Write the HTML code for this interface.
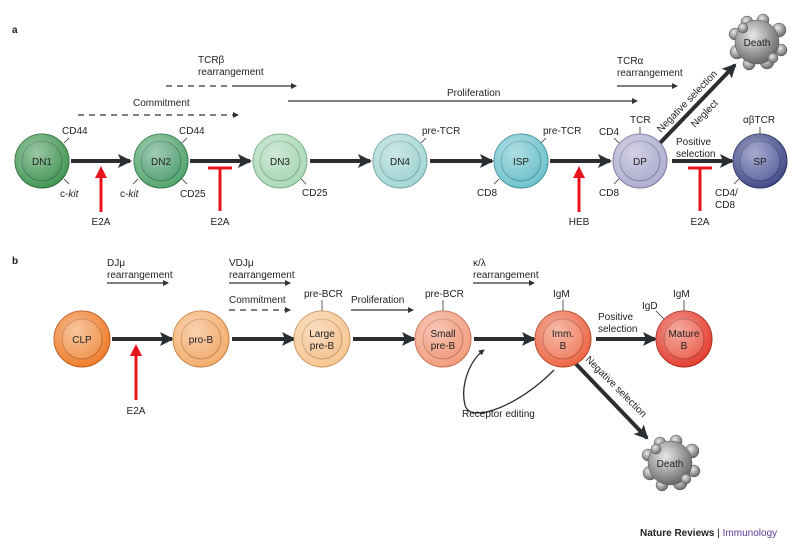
<!DOCTYPE html>
<html><head><meta charset="utf-8"><style>
html,body{margin:0;padding:0;background:#fff}
svg{display:block}
text{font-family:"Liberation Sans",sans-serif;font-size:10px;fill:#222}
</style></head><body>
<svg width="800" height="549" viewBox="0 0 800 549" xmlns="http://www.w3.org/2000/svg">
<defs>
<marker id="ah" markerWidth="8" markerHeight="8" refX="5" refY="4" orient="auto" markerUnits="userSpaceOnUse"><path d="M0,1 L6,4 L0,7 Z" fill="#333"/></marker>
<marker id="ahb" markerWidth="16" markerHeight="16" refX="12" refY="7" orient="auto" markerUnits="userSpaceOnUse"><path d="M0,0 L14,7 L0,14 L3,7 Z" fill="#2a2e31"/></marker>
<marker id="ahr" markerWidth="14" markerHeight="14" refX="6" refY="6" orient="auto" markerUnits="userSpaceOnUse"><path d="M0,0 L12,6 L0,12 Z" fill="#e8141c"/></marker>
<radialGradient id="gr" cx="40%" cy="35%" r="70%"><stop offset="0" stop-color="#fff" stop-opacity=".5"/><stop offset="1" stop-color="#fff" stop-opacity="0"/></radialGradient>
<radialGradient id="gd" cx="40%" cy="35%" r="65%"><stop offset="0" stop-color="#e8e8e8"/><stop offset="1" stop-color="#6a6a6a"/></radialGradient>
<g id="death">
<circle cx="-22" cy="-8" r="6" fill="url(#gd)" stroke="#555" stroke-width=".5"/>
<circle cx="-20" cy="10" r="7" fill="url(#gd)" stroke="#555" stroke-width=".5"/>
<circle cx="-8" cy="22" r="6" fill="url(#gd)" stroke="#555" stroke-width=".5"/>
<circle cx="10" cy="20" r="7" fill="url(#gd)" stroke="#555" stroke-width=".5"/>
<circle cx="24" cy="8" r="6" fill="url(#gd)" stroke="#555" stroke-width=".5"/>
<circle cx="22" cy="-12" r="7" fill="url(#gd)" stroke="#555" stroke-width=".5"/>
<circle cx="6" cy="-22" r="6" fill="url(#gd)" stroke="#555" stroke-width=".5"/>
<circle cx="-10" cy="-20" r="6" fill="url(#gd)" stroke="#555" stroke-width=".5"/>
<circle cx="0" cy="0" r="22" fill="url(#gd)" stroke="#555" stroke-width=".5"/>
<circle cx="-14" cy="-14" r="5" fill="url(#gd)" stroke="#555" stroke-width=".5"/>
<circle cx="16" cy="16" r="5" fill="url(#gd)" stroke="#555" stroke-width=".5"/>
<text x="0" y="4" text-anchor="middle" font-size="10">Death</text>
</g>
</defs>

<text x="12" y="33" font-weight="bold" font-size="11">a</text>
<text x="12" y="264" font-weight="bold" font-size="11">b</text>

<text x="198" y="63">TCRβ</text><text x="198" y="75">rearrangement</text>
<line x1="166" y1="86" x2="236" y2="86" stroke="#333" stroke-width="1.3" stroke-dasharray="6,5"/>
<line x1="236" y1="86" x2="296" y2="86" stroke="#333" stroke-width="1.3" marker-end="url(#ah)"/>
<text x="133" y="106">Commitment</text>
<line x1="78" y1="115" x2="238" y2="115" stroke="#333" stroke-width="1.3" stroke-dasharray="6,5" marker-end="url(#ah)"/>
<line x1="288" y1="101" x2="637" y2="101" stroke="#333" stroke-width="1.3" marker-end="url(#ah)"/>
<text x="447" y="96">Proliferation</text>
<text x="617" y="64">TCRα</text><text x="617" y="76">rearrangement</text>
<line x1="617" y1="86" x2="677" y2="86" stroke="#333" stroke-width="1.3" marker-end="url(#ah)"/>

<g stroke="#2a2e31" stroke-width="4" marker-end="url(#ahb)">
<line x1="71" y1="161" x2="130" y2="161"/>
<line x1="190" y1="161" x2="250" y2="161"/>
<line x1="310" y1="161" x2="370" y2="161"/>
<line x1="430" y1="161" x2="492" y2="161"/>
<line x1="550" y1="161" x2="610" y2="161"/>
<line x1="672" y1="161" x2="732" y2="161"/>
<line x1="660" y1="143" x2="735" y2="65"/>
</g>
<g stroke="#e8141c" stroke-width="3">
<line x1="101" y1="212" x2="101" y2="172" marker-end="url(#ahr)"/>
<line x1="579" y1="212" x2="579" y2="172" marker-end="url(#ahr)"/>
<line x1="220" y1="211" x2="220" y2="168"/><line x1="208" y1="168" x2="232" y2="168"/>
<line x1="700" y1="211" x2="700" y2="168"/><line x1="688" y1="168" x2="712" y2="168"/>
</g>
<text x="101" y="225" text-anchor="middle">E2A</text>
<text x="220" y="225" text-anchor="middle">E2A</text>
<text x="579" y="225" text-anchor="middle">HEB</text>
<text x="700" y="225" text-anchor="middle">E2A</text>

<text transform="translate(661,133) rotate(-46)">Negative selection</text>
<text transform="translate(695,128) rotate(-46)">Neglect</text>
<text x="676" y="145">Positive</text><text x="676" y="157">selection</text>
<use href="#death" x="757" y="42"/>

<g stroke="#2a2e31" stroke-width="0.8">
<line x1="64" y1="143" x2="69" y2="138"/><line x1="64" y1="179" x2="69" y2="184"/>
<line x1="182" y1="143" x2="187" y2="138"/><line x1="138" y1="179" x2="133" y2="184"/><line x1="182" y1="179" x2="187" y2="184"/>
<line x1="301" y1="179" x2="306" y2="184"/>
<line x1="421" y1="143" x2="426" y2="138"/>
<line x1="541" y1="143" x2="546" y2="138"/><line x1="499" y1="179" x2="494" y2="184"/>
<line x1="640" y1="134" x2="640" y2="127"/><line x1="619" y1="143" x2="614" y2="138"/><line x1="619" y1="179" x2="614" y2="184"/>
<line x1="760" y1="134" x2="760" y2="127"/><line x1="739" y1="179" x2="734" y2="184"/>
</g>
<g font-size="10">
<text x="62" y="134">CD44</text><text x="60" y="197">c-<tspan font-style="italic">kit</tspan></text>
<text x="179" y="134">CD44</text><text x="120" y="197">c-<tspan font-style="italic">kit</tspan></text><text x="180" y="197">CD25</text>
<text x="302" y="196">CD25</text>
<text x="422" y="134">pre-TCR</text>
<text x="543" y="134">pre-TCR</text><text x="477" y="196">CD8</text>
<text x="630" y="123">TCR</text><text x="599" y="135">CD4</text><text x="599" y="196">CD8</text>
<text x="743" y="123">αβTCR</text><text x="715" y="196">CD4/</text><text x="715" y="208">CD8</text>
</g>

<g>
<circle cx="42" cy="161" r="27" fill="#3e9550" stroke="#2b6b39"/><circle cx="42" cy="161" r="20" fill="#3a8f4c" stroke="#25603a"/><circle cx="42" cy="161" r="27" fill="url(#gr)"/><text x="42" y="165" text-anchor="middle">DN1</text>
<circle cx="161" cy="161" r="27" fill="#4fa36a" stroke="#2f7447"/><circle cx="161" cy="161" r="20" fill="#44996a" stroke="#2a6a44"/><circle cx="161" cy="161" r="27" fill="url(#gr)"/><text x="161" y="165" text-anchor="middle">DN2</text>
<circle cx="280" cy="161" r="27" fill="#a7d8b4" stroke="#79a987"/><circle cx="280" cy="161" r="20" fill="#9fd2ae" stroke="#6e9e7c"/><circle cx="280" cy="161" r="27" fill="url(#gr)"/><text x="280" y="165" text-anchor="middle">DN3</text>
<circle cx="400" cy="161" r="27" fill="#a2d6d4" stroke="#6fa3a3"/><circle cx="400" cy="161" r="20" fill="#98cfce" stroke="#6a9c9c"/><circle cx="400" cy="161" r="27" fill="url(#gr)"/><text x="400" y="165" text-anchor="middle">DN4</text>
<circle cx="521" cy="161" r="27" fill="#6bc2cc" stroke="#3e8f98"/><circle cx="521" cy="161" r="20" fill="#62bcc7" stroke="#3b8892"/><circle cx="521" cy="161" r="27" fill="url(#gr)"/><text x="521" y="165" text-anchor="middle">ISP</text>
<circle cx="640" cy="161" r="27" fill="#aeaccf" stroke="#77769b"/><circle cx="640" cy="161" r="20" fill="#a6a4ca" stroke="#6f6e94"/><circle cx="640" cy="161" r="27" fill="url(#gr)"/><text x="640" y="165" text-anchor="middle">DP</text>
<circle cx="760" cy="161" r="27" fill="#3d4787" stroke="#262d5e"/><circle cx="760" cy="161" r="20" fill="#4e589a" stroke="#262d5e"/><circle cx="760" cy="161" r="27" fill="url(#gr)"/><text x="760" y="165" text-anchor="middle" fill="#fff">SP</text>
</g>

<text x="107" y="266">DJμ</text><text x="107" y="278">rearrangement</text>
<line x1="107" y1="283" x2="168" y2="283" stroke="#333" stroke-width="1.3" marker-end="url(#ah)"/>
<text x="229" y="266">VDJμ</text><text x="229" y="278">rearrangement</text>
<line x1="229" y1="283" x2="290" y2="283" stroke="#333" stroke-width="1.3" marker-end="url(#ah)"/>
<text x="229" y="303">Commitment</text>
<line x1="229" y1="310" x2="290" y2="310" stroke="#333" stroke-width="1.3" stroke-dasharray="6,5" marker-end="url(#ah)"/>
<text x="351" y="303">Proliferation</text>
<line x1="351" y1="310" x2="413" y2="310" stroke="#333" stroke-width="1.3" marker-end="url(#ah)"/>
<text x="473" y="266">κ/λ</text><text x="473" y="278">rearrangement</text>
<line x1="473" y1="283" x2="534" y2="283" stroke="#333" stroke-width="1.3" marker-end="url(#ah)"/>
<text x="304" y="297">pre-BCR</text><text x="425" y="297">pre-BCR</text>
<text x="553" y="297">IgM</text><text x="673" y="297">IgM</text><text x="642" y="309">IgD</text>
<text x="598" y="320">Positive</text><text x="598" y="332">selection</text>
<g stroke="#2a2e31" stroke-width="0.8">
<line x1="322" y1="300" x2="322" y2="311"/><line x1="443" y1="300" x2="443" y2="311"/>
<line x1="563" y1="300" x2="563" y2="311"/><line x1="684" y1="300" x2="684" y2="311"/>
<line x1="656" y1="311" x2="664" y2="319"/>
</g>
<g stroke="#2a2e31" stroke-width="4" marker-end="url(#ahb)">
<line x1="112" y1="339" x2="172" y2="339"/>
<line x1="232" y1="339" x2="294" y2="339"/>
<line x1="353" y1="339" x2="414" y2="339"/>
<line x1="474" y1="339" x2="534" y2="339"/>
<line x1="596" y1="339" x2="655" y2="339"/>
<line x1="576" y1="364" x2="647" y2="438"/>
</g>
<path d="M554,370 C520,405 470,425 465,405 C460,385 470,360 484,350" fill="none" stroke="#2a2e31" stroke-width="1.3" marker-end="url(#ah)"/>
<text x="462" y="417">Receptor editing</text>
<text transform="translate(585,360) rotate(45)">Negative selection</text>
<line x1="136" y1="400" x2="136" y2="350" stroke="#e8141c" stroke-width="3" marker-end="url(#ahr)"/>
<text x="136" y="414" text-anchor="middle">E2A</text>
<use href="#death" x="670" y="463"/>

<g>
<circle cx="82" cy="339" r="28" fill="#ef7a25" stroke="#b8561a"/><circle cx="82" cy="339" r="20" fill="#f08a3c" stroke="#b8561a"/><circle cx="82" cy="339" r="28" fill="url(#gr)"/><text x="82" y="343" text-anchor="middle">CLP</text>
<circle cx="201" cy="339" r="28" fill="#f3ac6a" stroke="#c27b3c"/><circle cx="201" cy="339" r="20" fill="#f1a561" stroke="#b9753a"/><circle cx="201" cy="339" r="28" fill="url(#gr)"/><text x="201" y="343" text-anchor="middle">pro-B</text>
<circle cx="322" cy="339" r="28" fill="#f6c48e" stroke="#c8955e"/><circle cx="322" cy="339" r="20" fill="#f4bd84" stroke="#c08c58"/><circle cx="322" cy="339" r="28" fill="url(#gr)"/><text x="322" y="337" text-anchor="middle">Large</text><text x="322" y="349" text-anchor="middle">pre-B</text>
<circle cx="443" cy="339" r="28" fill="#f29a7a" stroke="#c26c50"/><circle cx="443" cy="339" r="20" fill="#f0906f" stroke="#b8654a"/><circle cx="443" cy="339" r="28" fill="url(#gr)"/><text x="443" y="337" text-anchor="middle">Small</text><text x="443" y="349" text-anchor="middle">pre-B</text>
<circle cx="563" cy="339" r="28" fill="#ec6340" stroke="#b24226"/><circle cx="563" cy="339" r="20" fill="#ef7452" stroke="#b24226"/><circle cx="563" cy="339" r="28" fill="url(#gr)"/><text x="563" y="337" text-anchor="middle">Imm.</text><text x="563" y="349" text-anchor="middle">B</text>
<circle cx="684" cy="339" r="28" fill="#e43b2c" stroke="#a8261a"/><circle cx="684" cy="339" r="20" fill="#ea5440" stroke="#a8261a"/><circle cx="684" cy="339" r="28" fill="url(#gr)"/><text x="684" y="337" text-anchor="middle">Mature</text><text x="684" y="349" text-anchor="middle">B</text>
</g>

<text x="640" y="536" font-weight="bold" font-size="10.5">Nature Reviews <tspan font-weight="normal">|</tspan> <tspan fill="#5b3a96" font-weight="normal">Immunology</tspan></text>
</svg>
</body></html>
